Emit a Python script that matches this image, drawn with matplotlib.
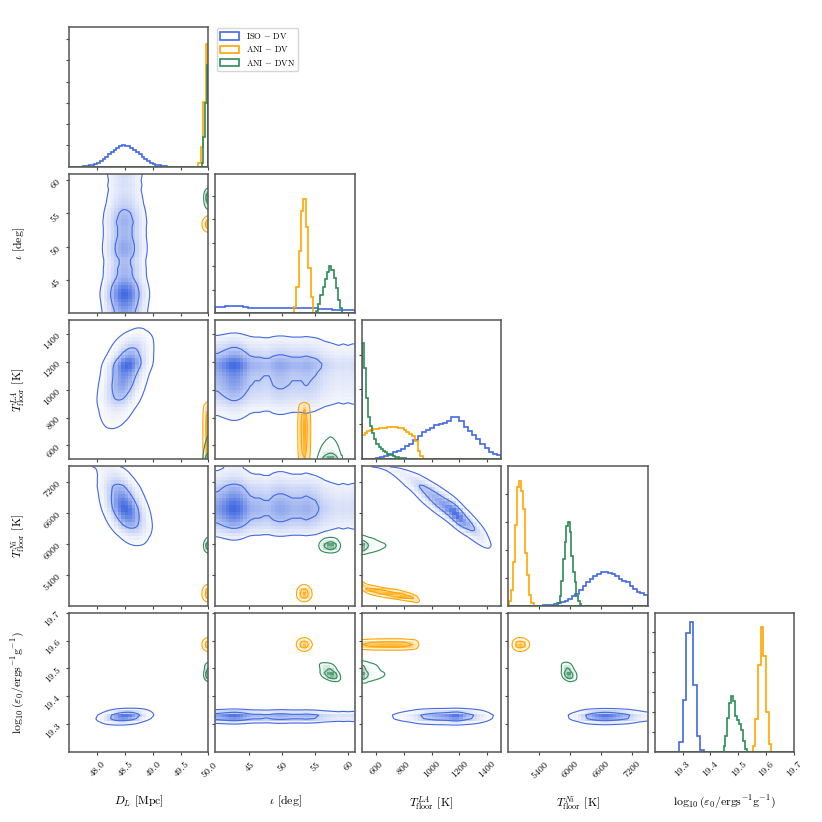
import math
import matplotlib
matplotlib.use("Agg")
import matplotlib.pyplot as plt
import numpy as np
from matplotlib.colors import LinearSegmentedColormap, to_rgba
from matplotlib.patches import Patch

plt.rcParams['font.family'] = 'cmr10'
plt.rcParams['mathtext.fontset'] = 'cm'
plt.rcParams['axes.formatter.use_mathtext'] = True

# parameters of the corner plot
labels = [r'$D_L$ [Mpc]', r'$\iota$ [deg]', r'$T^{LA}_{\rm floor}$ [K]',
          r'$T^{Ni}_{\rm floor}$ [K]', r'$\log_{10}(\varepsilon_0/\mathrm{ergs^{-1}g^{-1}})$']
ranges = [(47.5, 50.0), (40.0, 61.0), (500.0, 1500.0), (4800.0, 7500.0), (19.2, 19.7)]
ticks = [[48.0, 48.5, 49.0, 49.5, 50.0], [45, 50, 55, 60], [600, 800, 1000, 1200, 1400],
         [5400, 6000, 6600, 7200], [19.3, 19.4, 19.5, 19.6, 19.7]]
diag_top = [6.56, 5.96, 3.99, 4.98, 6.95]

series_names = ['ISO $-$ DV', 'ANI $-$ DV', 'ANI $-$ DVN']
series_colors = ['royalblue', 'orange', 'seagreen']

# 1D histograms: (first bin edge, bin width, heights)
iso_hist = [
    (47.75, 0.05, [0.02, 0.03, 0.05, 0.08, 0.13, 0.19, 0.26, 0.35, 0.46, 0.57, 0.69, 0.80, 0.89, 0.96, 1.0,
                   0.99, 0.96, 0.89, 0.80, 0.69, 0.57, 0.46, 0.35, 0.26, 0.19, 0.13, 0.08, 0.05, 0.03, 0.02]),
    (40.0, 0.7, [0.24, 0.26, 0.28, 0.30, 0.30, 0.28, 0.25, 0.22, 0.21, 0.21, 0.20, 0.20, 0.22, 0.23, 0.23,
                 0.22, 0.21, 0.21, 0.21, 0.22, 0.21, 0.20, 0.18, 0.16, 0.15, 0.14, 0.13, 0.14, 0.13, 0.14]),
    (540.0, 30.0, [0.01, 0.02, 0.04, 0.07, 0.10, 0.15, 0.20, 0.25, 0.31, 0.37, 0.44, 0.55, 0.68, 0.77, 0.84, 0.91,
                   0.97, 1.0, 1.04, 1.10, 1.20, 1.22, 1.10, 0.93, 0.81, 0.69, 0.57, 0.45, 0.32, 0.21, 0.15, 0.12]),
    (5400.0, 70.0, [0.005, 0.01, 0.02, 0.04, 0.06, 0.09, 0.12, 0.17, 0.25, 0.33, 0.42, 0.56, 0.70, 0.85, 0.96,
                    1.06, 1.14, 1.20, 1.22, 1.18, 1.13, 1.05, 0.97, 0.90, 0.83, 0.69, 0.60, 0.50, 0.44, 0.38]),
    (19.2755, 0.0127, [0.03, 0.52, 2.6, 5.93, 6.5, 3.35, 0.82, 0.1]),
]
dv_hist = [
    (49.82, 0.045, [0.16, 0.94, 3.05, 5.78]),
    (51.78, 0.37, [0.27, 1.1, 2.66, 4.34, 4.87, 3.67, 1.9, 0.7]),
    (500.0, 20.0, [0.70, 0.74, 0.80, 0.84, 0.86, 0.88, 0.89, 0.90, 0.91, 0.92, 0.93, 0.93,
                   0.92, 0.91, 0.89, 0.85, 0.78, 0.72, 0.67, 0.52, 0.24, 0.10, 0.02]),
    (4810.0, 40.0, [0.17, 0.55, 1.55, 2.9, 4.25, 4.45, 4.1, 3.45, 1.9, 1.1, 0.4, 0.1]),
    (19.552, 0.0095, [0.32, 1.65, 4.35, 6.23, 4.78, 2.0, 0.4]),
]
dvn_hist = [
    (49.88, 0.03, [0.15, 1.4, 3.0, 4.8]),
    (55.16, 0.33, [0.1, 0.4, 0.75, 1.1, 1.45, 1.75, 2.0, 1.85, 1.5, 1.05, 0.55, 0.2]),
    (500.0, 15.0, [3.33, 2.6, 1.75, 1.2, 0.95, 0.74, 0.58, 0.45, 0.36, 0.29, 0.24, 0.2, 0.16, 0.13,
                   0.11, 0.09, 0.07, 0.06, 0.045, 0.035, 0.025, 0.015, 0.01]),
    (5765.0, 32.0, [0.1, 0.35, 0.89, 1.66, 2.26, 2.86, 3.0, 2.62, 1.78, 1.19, 0.83, 0.35, 0.17, 0.05]),
    (19.447, 0.007, [0.3, 0.8, 1.7, 2.45, 2.78, 2.55, 1.82, 1.6, 1.4, 1.1, 0.55, 0.15]),
]

# correlation of each parameter pair (estimated from the tilt of the 2D contours)
pairs = [(0, 1), (0, 2), (0, 3), (0, 4), (1, 2), (1, 3), (1, 4), (2, 3), (2, 4), (3, 4)]
iso_rho = [0.0, 0.45, -0.45, 0.2, 0.0, 0.0, 0.0, -0.92, 0.0, 0.0]
dv_rho = [0.0, 0.0, 0.0, 0.0, 0.0, 0.0, 0.0, -0.75, 0.0, 0.0]
dvn_rho = [0.0, 0.0, 0.0, 0.0, 0.0, 0.0, -0.4, 0.0, 0.0, -0.3]

levels = [0.865, 0.393]

hists = [iso_hist, dv_hist, dvn_hist]
rhos = [iso_rho, dv_rho, dvn_rho]

N = 160
BLOCK = 4

z_tab = np.linspace(-7, 7, 2801)
phi_tab = np.array([0.5 * (1 + math.erf(z / math.sqrt(2))) for z in z_tab])


def norm_ppf(u):
    return np.interp(u, phi_tab, z_tab)


def bin_edges(start, width, heights):
    return start + width * np.arange(len(heights) + 1)


def marginal(hist, lo, hi):
    start, width, heights = hist
    h = np.asarray(heights, float)
    edges = bin_edges(start, width, h)
    centers = 0.5 * (edges[1:] + edges[:-1])
    xs = np.concatenate([[edges[0]], centers, [edges[-1]]])
    ys = np.concatenate([[h[0]], h, [h[-1]]])
    dx = (hi - lo) / N
    x = lo + (np.arange(N) + 0.5) * dx
    f = np.interp(x, xs, ys, left=0, right=0)
    f = f / (f.sum() * dx)
    F = (np.cumsum(f) - 0.5 * f) * dx
    return x, f, np.clip(F, 1e-9, 1 - 1e-9)


fig, axes = plt.subplots(5, 5, figsize=(8.22, 8.22), dpi=100)
fig.subplots_adjust(left=0.084, right=0.966, bottom=0.085, top=0.967, wspace=0.05, hspace=0.05)

margs = [[marginal(hists[s][p], *ranges[p]) for p in range(5)] for s in range(3)]

for i in range(5):
    for j in range(5):
        ax = axes[i, j]
        if j > i:
            ax.set_visible(False)
            continue
        for s in range(3):
            color = series_colors[s]
            if i == j:
                start, width, heights = hists[s][i]
                ax.stairs(heights, bin_edges(start, width, heights), color=color, lw=1.2)
                ax.axhline(0, color=color, lw=1.2)
                continue
            r = rhos[s][pairs.index((j, i))]
            x, fx, Fx = margs[s][j]
            y, fy, Fy = margs[s][i]
            a = norm_ppf(Fx)[None, :]
            b = norm_ppf(Fy)[:, None]
            cop = np.exp(-(r * r * (a * a + b * b) - 2 * r * a * b) / (2 * (1 - r * r))) / math.sqrt(1 - r * r)
            H = fy[:, None] * fx[None, :] * cop
            flat = np.sort(H.ravel())[::-1]
            cum = np.cumsum(flat)
            cum /= cum[-1]
            V = [flat[np.searchsorted(cum, lv)] for lv in levels]
            nb = N // BLOCK
            Hb = H.reshape(nb, BLOCK, nb, BLOCK).mean(axis=(1, 3))
            Hb = np.ma.masked_less(Hb, V[0])
            cmap = LinearSegmentedColormap.from_list('d' + str(s), [(1, 1, 1, 0), to_rgba(color)])
            xe = np.linspace(ranges[j][0], ranges[j][1], nb + 1)
            ye = np.linspace(ranges[i][0], ranges[i][1], nb + 1)
            ax.pcolormesh(xe, ye, Hb / H.max(), cmap=cmap, vmin=0, vmax=1, shading='flat')
            ax.contour(x, y, H, levels=V, colors=color, linewidths=0.8)

        ax.set_xlim(ranges[j])
        ax.set_xticks(ticks[j])
        if i == j:
            ax.set_ylim(0, diag_top[i])
            ax.set_yticks(np.arange(1, diag_top[i]))
            ax.set_yticklabels([])
        else:
            ax.set_ylim(ranges[i])
            ax.set_yticks(ticks[i])
            if j == 0:
                ax.set_ylabel(labels[i], fontsize=8.5)
                ax.yaxis.set_label_coords(-0.3, 0.5)
                for lab in ax.get_yticklabels():
                    lab.set_rotation(45)
            else:
                ax.set_yticklabels([])
        if i == 4:
            ax.set_xlabel(labels[j], fontsize=8.5)
            ax.xaxis.set_label_coords(0.5, -0.3)
            for lab in ax.get_xticklabels():
                lab.set_rotation(45)
        else:
            ax.set_xticklabels([])
        ax.tick_params(direction='out', length=2.5, width=0.8, colors='#444444',
                       labelcolor='black', labelsize=7, pad=2)
        for sp in ax.spines.values():
            sp.set_color('#555555')
            sp.set_linewidth(1.1)

handles = [Patch(facecolor='none', edgecolor=c, lw=1.2, label=n) for n, c in zip(series_names, series_colors)]
fig.legend(handles=handles, loc='upper left', bbox_to_anchor=(0.264, 0.966), fontsize=6.2,
           frameon=True, edgecolor='#cccccc', borderaxespad=0, handlelength=2.2, handleheight=0.9,
           labelspacing=0.4, borderpad=0.35)

fig.savefig('out.png', dpi=100)
